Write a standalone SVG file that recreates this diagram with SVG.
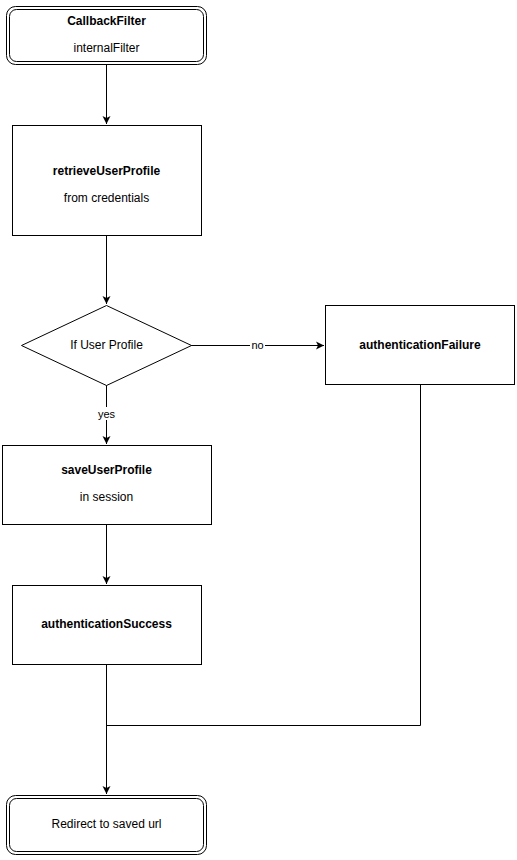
<svg xmlns="http://www.w3.org/2000/svg" width="517" height="860" viewBox="0 0 517 860">
<style>
.box{fill:#fff;stroke:#000;stroke-width:1}
.t{font-family:"Liberation Sans",Arial,sans-serif;font-size:12px;fill:#000;text-anchor:middle}
.b{font-weight:bold}
.c{fill:none;stroke:#000;stroke-width:1}
.lbl{font-family:"Liberation Sans",Arial,sans-serif;font-size:11px;fill:#000;text-anchor:middle}
</style>
<defs>
<marker id="arr" markerWidth="10" markerHeight="10" refX="9" refY="5" orient="auto" markerUnits="userSpaceOnUse">
<path d="M1,1 L9,5 L1,9 L3,5 Z" fill="#000"/>
</marker>
</defs>
<rect width="517" height="860" fill="#fff"/>
<g id="connectors">
<line class="c" x1="106.5" y1="65" x2="106.5" y2="124" marker-end="url(#arr)"/>
<line class="c" x1="106.5" y1="235" x2="106.5" y2="304" marker-end="url(#arr)"/>
<line class="c" x1="191" y1="345.5" x2="324" y2="345.5" marker-end="url(#arr)"/>
<rect x="250" y="339" width="15" height="12" fill="#fff"/>
<text class="lbl" x="257.5" y="349">no</text>
<line class="c" x1="106.5" y1="385" x2="106.5" y2="444" marker-end="url(#arr)"/>
<rect x="95" y="407" width="23" height="13" fill="#fff"/>
<text class="lbl" x="106.5" y="418">yes</text>
<line class="c" x1="106.5" y1="525" x2="106.5" y2="584" marker-end="url(#arr)"/>
<line class="c" x1="106.5" y1="665" x2="106.5" y2="794" marker-end="url(#arr)"/>
<polyline class="c" points="420.5,385 420.5,725.5 106.5,725.5"/>
</g>
<g id="callbackFilter">
<rect class="box" x="6.5" y="6.5" width="200" height="58" rx="9"/>
<rect class="box" x="9.5" y="9.5" width="194" height="52" rx="7"/>
<text class="t b" x="106.5" y="25">CallbackFilter</text>
<text class="t" x="106.5" y="52">internalFilter</text>
</g>
<g id="retrieveUserProfile">
<rect class="box" x="12.5" y="125.5" width="189" height="110"/>
<text class="t b" x="106.5" y="175">retrieveUserProfile</text>
<text class="t" x="106.5" y="202">from credentials</text>
</g>
<g id="ifUserProfile">
<polygon class="box" points="106.5,305.5 191.5,345.5 106.5,385.5 21.5,345.5"/>
<text class="t" x="106.5" y="349">If User Profile</text>
</g>
<g id="authenticationFailure">
<rect class="box" x="325.5" y="305.5" width="189" height="79"/>
<text class="t b" x="420" y="349">authenticationFailure</text>
</g>
<g id="saveUserProfile">
<rect class="box" x="2.5" y="445.5" width="209" height="79"/>
<text class="t b" x="106.5" y="474">saveUserProfile</text>
<text class="t" x="106.5" y="501">in session</text>
</g>
<g id="authenticationSuccess">
<rect class="box" x="12.5" y="585.5" width="189" height="79"/>
<text class="t b" x="106.5" y="628">authenticationSuccess</text>
</g>
<g id="redirect">
<rect class="box" x="6.5" y="795.5" width="200" height="59" rx="9"/>
<rect class="box" x="9.5" y="798.5" width="194" height="53" rx="7"/>
<text class="t" x="106.5" y="828">Redirect to saved url</text>
</g>
</svg>
